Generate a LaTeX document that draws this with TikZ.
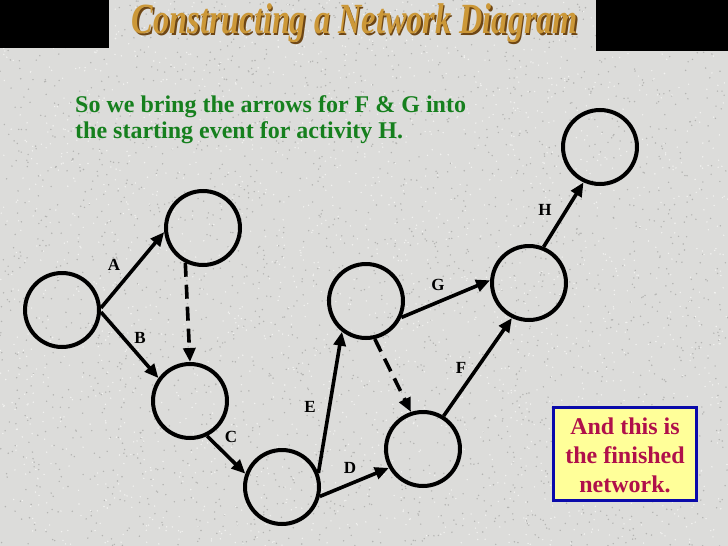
\documentclass[tikz,border=0pt]{standalone}
\usepackage{fontspec}
\setmainfont{Liberation Serif}
\usetikzlibrary{arrows.meta}
\definecolor{bg}{RGB}{220,220,218}
\definecolor{speckdark}{RGB}{180,180,178}
\definecolor{specklight}{RGB}{242,242,240}
\definecolor{txtgreen}{RGB}{22,128,30}
\definecolor{boxyellow}{RGB}{255,255,153}
\definecolor{boxblue}{RGB}{10,10,170}
\definecolor{boxred}{RGB}{176,16,74}
\definecolor{gold}{RGB}{204,152,56}
\definecolor{goldshadow}{RGB}{110,70,20}
\tikzset{
  event/.style={circle, draw=black, line width=4pt, minimum size=74pt, inner sep=0pt},
  act/.style={line width=3.6pt, -{Triangle[length=14pt,width=12pt]}},
  dummy/.style={act, dash pattern=on 14pt off 8pt},
  lbl/.style={font=\fontsize{17}{17}\selectfont\bfseries, text=black, inner sep=0pt},
  titletext/.style={inner sep=0pt},
}
\newcommand{\titlebox}{\resizebox*{446pt}{39pt}{\bfseries\itshape Constructing a Network Diagram}}
\begin{document}
\begin{tikzpicture}[x=1pt,y=-1pt]
\useasboundingbox (0,0) rectangle (728,546);
\fill[bg] (0,0) rectangle (728,546);
\pgfmathsetseed{7}
\foreach \i in {1,...,2500}{\fill[speckdark] (728*rnd,546*rnd) circle (0.8);}
\foreach \i in {1,...,2000}{\fill[specklight] (728*rnd,546*rnd) circle (0.8);}
\fill[black] (0,0) rectangle (109,48);
\fill[black] (596,0) rectangle (728,51);
% title
\node[titletext, text=goldshadow] (titleshadow) at (356.5,25) {\titlebox};
\node[titletext, text=gold] (title) at (355,23.5) {\titlebox};
% green text
\node[anchor=base west, inner sep=0pt, text=txtgreen, font=\fontsize{24}{26}\selectfont\bfseries, align=left] (intro) at (75,138) {So we bring the arrows for F \& G into\\the starting event for activity H.};
% events
\node[event] (c1) at (62,310) {};
\node[event] (c2) at (203,228) {};
\node[event] (c3) at (190,401) {};
\node[event] (c4) at (282,487) {};
\node[event] (c5) at (366,301) {};
\node[event] (c6) at (423,449) {};
\node[event] (c7) at (529,283) {};
\node[event] (c8) at (600,147) {};
% activities
\draw[act] (c1.3) -- (c2.186);
\draw[act] (c1.-3) -- (c3.144);
\draw[dummy] (c2.-117) -- (c3.90);
\draw[act] (c3.-64) -- (c4.160);
\draw[act] (c4.21) -- (c5.-128);
\draw[act] (c4.-14) -- (c6.209);
\draw[dummy] (c5.-77) -- (c6.108);
\draw[act] (c5.-25) -- (c7.176);
\draw[act] (c6.58) -- (c7.-116);
\draw[act] (c7.68) -- (c8.-115);
% labels
\node[lbl] (la) at (114,265) {A};
\node[lbl] (lb) at (140,338) {B};
\node[lbl] (lc) at (231,437) {C};
\node[lbl] (ld) at (350,468) {D};
\node[lbl] (le) at (310,407) {E};
\node[lbl] (lf) at (461,368) {F};
\node[lbl] (lg) at (438,285) {G};
\node[lbl] (lh) at (545,210) {H};
% box
\node[draw=boxblue, line width=3pt, fill=boxyellow, minimum width=143pt, minimum height=93pt, inner sep=0pt] (note) at (625,454) {};
\node[anchor=base, inner sep=0pt, align=center, text=boxred, font=\fontsize{24}{29}\selectfont\bfseries] (notetext) at (625,492) {And this is\\the finished\\network.};
\end{tikzpicture}
\end{document}
